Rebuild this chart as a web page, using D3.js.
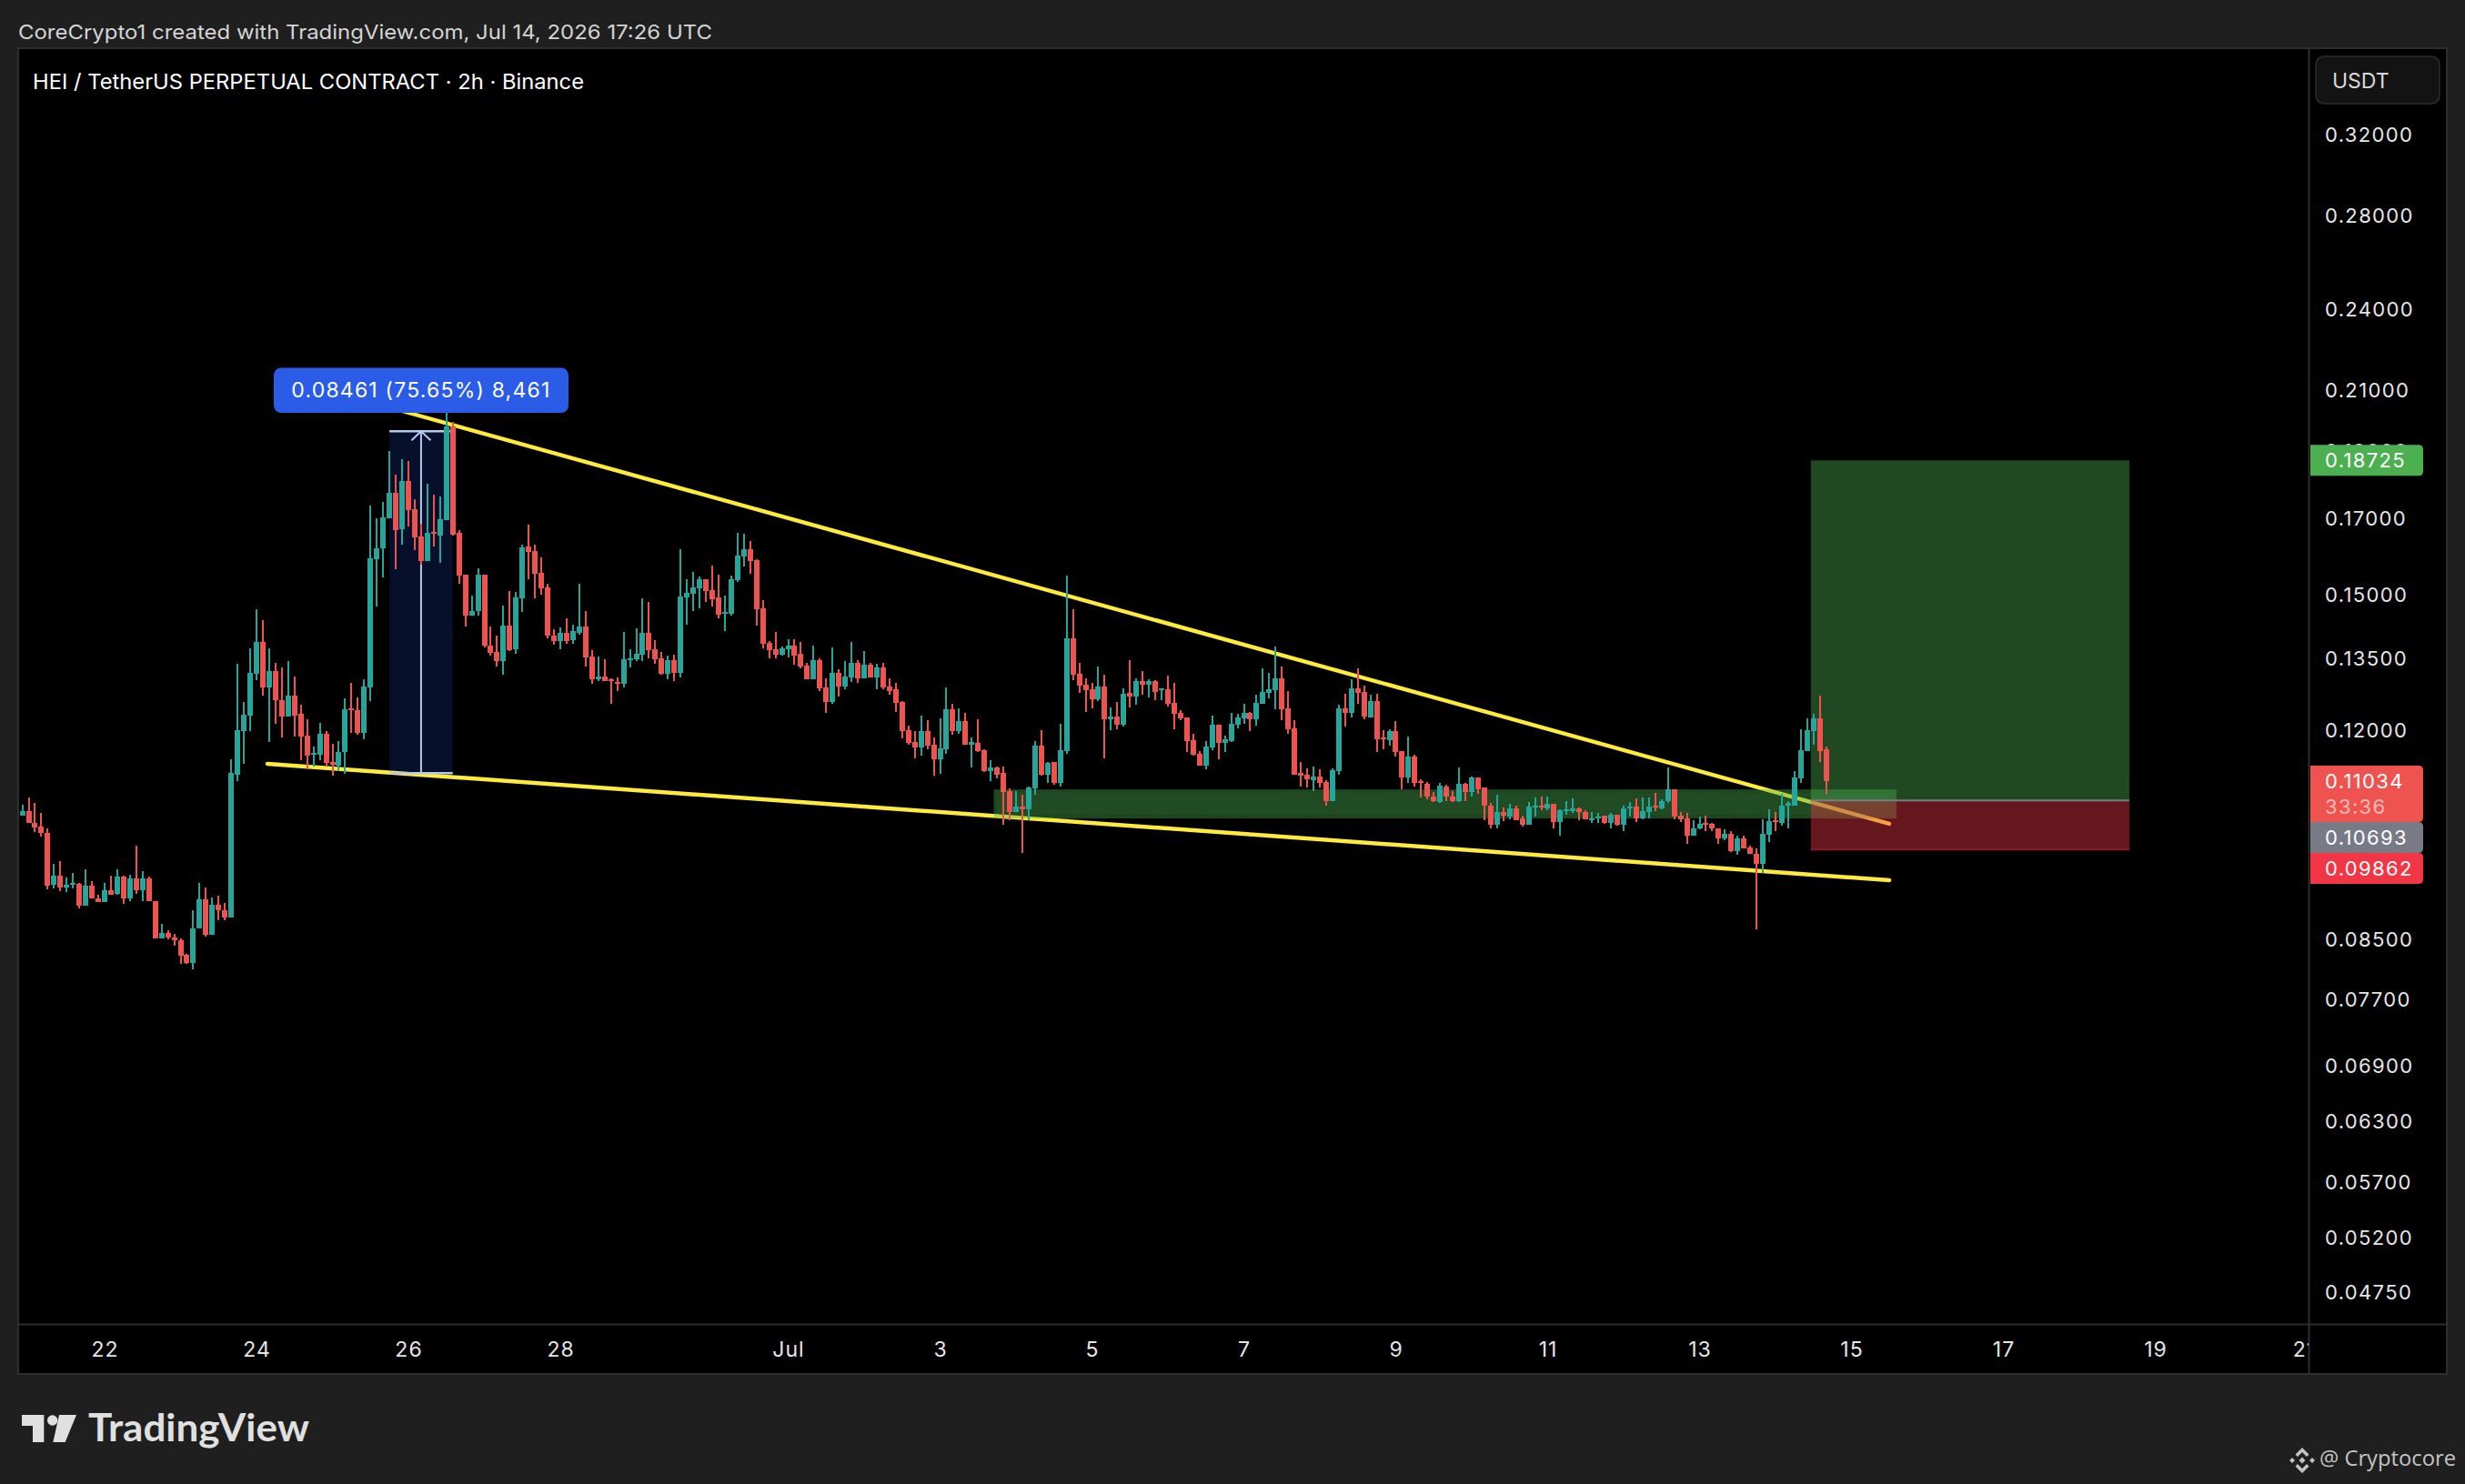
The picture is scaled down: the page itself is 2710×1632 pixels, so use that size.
<!DOCTYPE html>
<html><head><meta charset="utf-8">
<script src="https://cdnjs.cloudflare.com/ajax/libs/d3/7.8.5/d3.min.js"></script>
<style>html,body{margin:0;padding:0;background:#1f1f1f;overflow:hidden}svg{display:block}</style>
</head><body>
<script>
const startTime = Date.UTC(2026,5,20,22);
const opens = [
.1043,.1050,.1030,.1024,.1014,.0930,.0945,.0927,.0933,.0932,
.0899,.0929,.0910,.0904,.0922,.0917,.0944,.0910,.0941,.0922,
.0940,.0906,.0852,.0860,.0853,.0850,.0829,.0818,.0866,.0908,
.0857,.0901,.0893,.0882,.1115,.1198,.1230,.1317,.1388,.1289,
.1323,.1262,.1227,.1270,.1233,.1189,.1154,.1153,.1193,.1139,
.1133,.1158,.1244,.1240,.1196,.1289,.1590,.1620,.1702,.1775,
.1671,.1809,.1728,.1651,.1586,.1664,.1654,.1697,.1980,.1661,
.1551,.1450,.1460,.1551,.1381,.1365,.1346,.1426,.1371,.1491,
.1625,.1613,.1556,.1519,.1404,.1390,.1410,.1393,.1410,.1424,
.1355,.1305,.1312,.1305,.1300,.1295,.1350,.1349,.1360,.1410,
.1372,.1352,.1318,.1347,.1320,.1494,.1503,.1517,.1539,.1512,
.1494,.1454,.1454,.1538,.1598,.1618,.1589,.1468,.1386,.1372,
.1360,.1372,.1380,.1362,.1336,.1306,.1347,.1288,.1257,.1320,
.1290,.1310,.1342,.1307,.1338,.1310,.1332,.1290,.1284,.1258,
.1201,.1177,.1167,.1199,.1172,.1144,.1163,.1242,.1199,.1218,
.1173,.1175,.1161,.1122,.1129,.1119,.1086,.1049,.1058,.1054,
.1091,.1170,.1115,.1139,.1100,.1160,.1397,.1318,.1294,.1284,
.1264,.1290,.1222,.1228,.1211,.1277,.1269,.1301,.1294,.1301,
.1282,.1284,.1256,.1235,.1226,.1181,.1154,.1132,.1167,.1211,
.1175,.1179,.1211,.1224,.1235,.1222,.1254,.1277,.1283,.1308,
.1245,.1204,.1119,.1115,.1105,.1112,.1102,.1069,.1122,.1245,
.1235,.1286,.1279,.1226,.1260,.1186,.1181,.1198,.1160,.1110,
.1150,.1104,.1099,.1077,.1066,.1094,.1077,.1068,.1099,.1084,
.1110,.1092,.1061,.1027,.1049,.1041,.1055,.1038,.1027,.1058,
.1061,.1055,.1063,.1032,.1050,.1050,.1055,.1049,.1038,.1038,
.1043,.1030,.1044,.1027,.1055,.1058,.1039,.1049,.1060,.1055,
.1068,.1089,.1043,.1038,.1009,.1021,.1030,.1029,.1022,.1004,
.1012,.0984,.1004,.0990,.0980,.0963,.1011,.1035,.1030,.1061,
.1061,.1109,.1160,.1198,.1224,.1163];
const highs = [
.1062,.1075,.1065,.1047,.1022,.0963,.0968,.0942,.0949,.0934,
.0955,.0936,.0916,.0934,.0945,.0954,.0945,.0946,.0993,.0952,
.0943,.0906,.0873,.0864,.0858,.0852,.0830,.0893,.0934,.0927,
.0911,.0914,.0903,.1145,.1340,.1258,.1373,.1466,.1439,.1374,
.1342,.1331,.1346,.1311,.1252,.1222,.1168,.1216,.1198,.1174,
.1180,.1266,.1298,.1268,.1305,.1739,.1703,.1749,.1901,.1829,
.1875,.1870,.1756,.1686,.1801,.1769,.1764,.2026,.1996,.1669,
.1552,.1499,.1568,.1552,.1424,.1404,.1474,.1510,.1508,.1629,
.1684,.1629,.1597,.1527,.1417,.1423,.1444,.1429,.1527,.1460,
.1369,.1356,.1350,.1307,.1310,.1411,.1371,.1420,.1491,.1483,
.1393,.1365,.1357,.1359,.1617,.1539,.1558,.1547,.1539,.1575,
.1552,.1498,.1548,.1662,.1660,.1640,.1591,.1488,.1391,.1412,
.1378,.1394,.1395,.1388,.1342,.1380,.1352,.1307,.1375,.1328,
.1345,.1388,.1347,.1367,.1342,.1340,.1342,.1307,.1298,.1260,
.1210,.1199,.1229,.1220,.1186,.1224,.1288,.1254,.1244,.1235,
.1186,.1222,.1163,.1142,.1131,.1131,.1091,.1086,.1079,.1094,
.1179,.1201,.1139,.1139,.1213,.1548,.1465,.1342,.1307,.1298,
.1334,.1316,.1246,.1258,.1286,.1347,.1307,.1324,.1306,.1303,
.1286,.1314,.1298,.1240,.1226,.1193,.1160,.1179,.1229,.1211,
.1189,.1235,.1233,.1254,.1237,.1273,.1330,.1320,.1379,.1333,
.1281,.1221,.1139,.1127,.1131,.1125,.1105,.1127,.1252,.1275,
.1306,.1330,.1292,.1273,.1275,.1201,.1202,.1219,.1160,.1188,
.1153,.1107,.1102,.1084,.1100,.1097,.1086,.1129,.1100,.1112,
.1110,.1092,.1065,.1079,.1057,.1063,.1060,.1043,.1066,.1074,
.1076,.1076,.1063,.1054,.1069,.1073,.1057,.1052,.1049,.1047,
.1043,.1047,.1044,.1060,.1066,.1073,.1074,.1074,.1082,.1071,
.1129,.1090,.1049,.1047,.1035,.1041,.1043,.1030,.1022,.1019,
.1016,.1009,.1009,.0993,.0988,.1037,.1054,.1049,.1081,.1068,
.1122,.1202,.1224,.1233,.1271,.1168];
const lows = [
.1043,.1030,.1015,.1008,.0924,.0925,.0921,.0920,.0925,.0895,
.0899,.0910,.0904,.0904,.0916,.0915,.0902,.0906,.0917,.0906,
.0906,.0852,.0852,.0851,.0842,.0817,.0817,.0810,.0866,.0855,
.0857,.0878,.0878,.0882,.1104,.1136,.1198,.1303,.1270,.1178,
.1214,.1186,.1227,.1188,.1142,.1126,.1131,.1143,.1132,.1114,
.1123,.1118,.1196,.1191,.1183,.1260,.1471,.1545,.1702,.1564,
.1629,.1680,.1616,.1577,.1586,.1625,.1581,.1697,.1655,.1527,
.1425,.1450,.1450,.1377,.1358,.1334,.1315,.1368,.1361,.1458,
.1540,.1491,.1500,.1397,.1383,.1372,.1385,.1385,.1406,.1334,
.1296,.1301,.1301,.1253,.1281,.1289,.1331,.1345,.1346,.1352,
.1340,.1316,.1306,.1301,.1310,.1428,.1461,.1468,.1484,.1472,
.1443,.1414,.1450,.1533,.1572,.1554,.1426,.1374,.1352,.1352,
.1358,.1354,.1338,.1330,.1306,.1306,.1281,.1235,.1254,.1269,
.1284,.1300,.1298,.1307,.1310,.1284,.1284,.1273,.1237,.1184,
.1172,.1147,.1151,.1163,.1114,.1117,.1154,.1191,.1193,.1172,
.1129,.1158,.1120,.1104,.1109,.1027,.1035,.1049,.0981,.1035,
.1079,.1114,.1100,.1098,.1094,.1154,.1303,.1277,.1237,.1244,
.1260,.1146,.1201,.1202,.1208,.1246,.1252,.1273,.1267,.1262,
.1262,.1248,.1202,.1220,.1158,.1151,.1132,.1125,.1161,.1144,
.1158,.1177,.1204,.1213,.1199,.1210,.1254,.1265,.1243,.1221,
.1193,.1115,.1094,.1092,.1086,.1092,.1060,.1069,.1115,.1208,
.1226,.1254,.1222,.1226,.1158,.1163,.1170,.1150,.1090,.1100,
.1094,.1074,.1071,.1066,.1065,.1068,.1066,.1066,.1069,.1076,
.1081,.1035,.1021,.1022,.1033,.1037,.1035,.1024,.1027,.1041,
.1052,.1052,.1021,.1009,.1044,.1047,.1035,.1037,.1030,.1030,
.1029,.1022,.1026,.1016,.1041,.1032,.1037,.1038,.1050,.1054,
.1065,.1037,.1032,.0995,.1009,.1019,.1016,.1016,.0996,.1001,
.0982,.0978,.0988,.0979,.0865,.0949,.0999,.1016,.1026,.1021,
.1061,.1100,.1160,.1173,.1139,.1081];
const closes = [
.1050,.1030,.1023,.1013,.0929,.0945,.0927,.0931,.0934,.0899,
.0929,.0910,.0904,.0922,.0916,.0944,.0910,.0941,.0922,.0940,
.0906,.0852,.0860,.0853,.0849,.0828,.0818,.0866,.0908,.0857,
.0900,.0892,.0882,.1119,.1200,.1231,.1319,.1388,.1289,.1323,
.1262,.1227,.1270,.1230,.1188,.1151,.1156,.1193,.1138,.1134,
.1158,.1243,.1243,.1196,.1291,.1593,.1620,.1704,.1775,.1669,
.1809,.1725,.1649,.1586,.1661,.1661,.1699,.1980,.1658,.1549,
.1450,.1462,.1551,.1380,.1363,.1346,.1426,.1370,.1494,.1623,
.1611,.1553,.1517,.1402,.1390,.1409,.1390,.1413,.1424,.1353,
.1306,.1312,.1302,.1302,.1295,.1350,.1352,.1362,.1410,.1370,
.1350,.1317,.1347,.1320,.1496,.1505,.1519,.1540,.1510,.1490,
.1453,.1459,.1540,.1601,.1618,.1586,.1465,.1384,.1370,.1360,
.1374,.1380,.1357,.1334,.1306,.1347,.1286,.1258,.1320,.1290,
.1311,.1342,.1307,.1338,.1310,.1332,.1288,.1281,.1256,.1199,
.1175,.1167,.1199,.1170,.1144,.1165,.1242,.1199,.1218,.1173,
.1177,.1160,.1122,.1129,.1115,.1084,.1049,.1058,.1054,.1092,
.1170,.1115,.1137,.1100,.1161,.1397,.1316,.1292,.1282,.1264,
.1290,.1222,.1228,.1211,.1275,.1269,.1301,.1294,.1301,.1279,
.1286,.1254,.1233,.1224,.1179,.1153,.1132,.1168,.1211,.1175,
.1182,.1213,.1226,.1235,.1222,.1256,.1279,.1284,.1308,.1243,
.1202,.1116,.1114,.1107,.1112,.1100,.1069,.1124,.1245,.1235,
.1286,.1277,.1228,.1260,.1183,.1183,.1198,.1158,.1110,.1150,
.1100,.1100,.1076,.1068,.1095,.1076,.1068,.1099,.1084,.1110,
.1090,.1060,.1027,.1049,.1043,.1055,.1035,.1027,.1058,.1061,
.1058,.1063,.1032,.1052,.1054,.1055,.1049,.1037,.1039,.1041,
.1030,.1044,.1027,.1055,.1058,.1039,.1050,.1058,.1057,.1069,
.1089,.1041,.1037,.1009,.1022,.1029,.1027,.1022,.1004,.1012,
.0984,.1004,.0988,.0979,.0963,.1012,.1033,.1032,.1061,.1065,
.1110,.1161,.1200,.1224,.1160,.11034];

const priceTicks = [0.32,0.28,0.24,0.21,0.19,0.17,0.15,0.135,0.12,0.085,0.077,0.069,0.063,0.057,0.052,0.0475];
const dateTicks = [[5,22],[5,24],[5,26],[5,28],[6,1],[6,3],[6,5],[6,7],[6,9],[6,11],[6,13],[6,15],[6,17],[6,19],[6,21]];
const dateTickLabels = ["22","24","26","28","Jul","3","5","7","9","11","13","15","17","19","21"];

const upperTrend = [{t:"2026-06-25T17:24Z",p:.2045},{t:"2026-07-15T11:56Z",p:.1029}];
const lowerTrend = [{t:"2026-06-24T03:27Z",p:.1136},{t:"2026-07-15T11:56Z",p:.09376}];
const zoneTimes = ["2026-07-03T16:58Z","2026-07-15T14:14Z"];
const zonePrices = [.1089,.1038];
const measureTimes = ["2026-06-25T18:00Z","2026-06-26T14:00Z"];
const measurePrices = [.19645,.11184];
const measureLabel = "0.08461 (75.65%) 8,461";
const longTimes = ["2026-07-14T11:10Z","2026-07-18T15:50Z"];
const longTarget = .18725, longEntry = .10693, longStop = .09862, lastClose = .11034;

const W=2710,H=1632;
const pane={l:21,t:54,r:2538,b:1456};
const UI="Inter, 'Liberation Sans', sans-serif";
const svg=d3.select("body").append("svg").attr("width",W).attr("height",H).attr("viewBox",`0 0 ${W} ${H}`);
const x=d3.scaleUtc().domain([Date.UTC(2026,5,22),Date.UTC(2026,6,21)]).range([115,2536.5]);
const y=d3.scaleLog().domain([0.32,0.0475]).range([148.6,1422]);
const px=t=>x(new Date(t));

svg.append("rect").attr("width",W).attr("height",H).attr("fill","#1f1f1f");
svg.append("rect").attr("x",20).attr("y",53).attr("width",2670).attr("height",1458).attr("fill","#000").attr("stroke","#2e2e2e").attr("stroke-width",2);

const defs=svg.append("defs");
defs.append("clipPath").attr("id","pane").append("rect").attr("x",pane.l).attr("y",pane.t).attr("width",pane.r-pane.l).attr("height",pane.b-pane.t);
defs.append("clipPath").attr("id","timeclip").append("rect").attr("x",pane.l).attr("y",pane.b).attr("width",pane.r-pane.l).attr("height",55);
const g=svg.append("g").attr("clip-path","url(#pane)");

// measure tool
const mx0=px(measureTimes[0]),mx1=px(measureTimes[1]),my0=y(measurePrices[0]),my1=y(measurePrices[1]),mc=(mx0+mx1)/2;
g.append("rect").attr("x",mx0).attr("y",my0).attr("width",mx1-mx0).attr("height",my1-my0).attr("fill","#07102a");

// trend lines
const line=d3.line().x(d=>px(d.t)).y(d=>y(d.p));
[upperTrend,lowerTrend].forEach(d=>g.append("path").attr("d",line(d)).attr("fill","none").attr("stroke","#ffeb3b").attr("stroke-width",4.4).attr("stroke-linecap","round"));

// measure lines
const mc1="#b7c9f0";
g.append("path").attr("d",`M${mx0},${my0}H${mx1}M${mx0},${my1}H${mx1}`).attr("stroke",mc1).attr("stroke-width",2.5).attr("fill","none");
g.append("path").attr("d",`M${mc},${my1}V${my0}`).attr("stroke",mc1).attr("stroke-width",2).attr("fill","none");
g.append("path").attr("d",`M${mc-10.5},${my0+10}L${mc},${my0}L${mc+10.5},${my0+10}`).attr("stroke",mc1).attr("stroke-width",2).attr("fill","none");

// zone: a soft fill with a slightly darker 4px rim
const zx0=px(zoneTimes[0]),zx1=px(zoneTimes[1]),zy0=y(zonePrices[0]),zy1=y(zonePrices[1]);
g.append("rect").attr("x",zx0).attr("y",zy0).attr("width",zx1-zx0).attr("height",zy1-zy0).attr("fill","#4caf50").attr("fill-opacity",.40);
g.append("rect").attr("x",zx0+4).attr("y",zy0+4).attr("width",zx1-zx0-8).attr("height",zy1-zy0-8).attr("fill","#4caf50").attr("fill-opacity",.06);

// long position
const lx0=px(longTimes[0]),lx1=px(longTimes[1]);
g.append("rect").attr("x",lx0).attr("y",y(longTarget)).attr("width",lx1-lx0).attr("height",y(longEntry)-y(longTarget)).attr("fill","#4caf50").attr("fill-opacity",.42);
g.append("rect").attr("x",lx0).attr("y",y(longEntry)).attr("width",lx1-lx0).attr("height",y(longStop)-y(longEntry)).attr("fill","#f23645").attr("fill-opacity",.42);
g.append("path").attr("d",`M${lx0},${y(longEntry)}H${lx1}`).attr("stroke","#787b86").attr("stroke-width",2);
g.append("path").attr("d",`M${lx0},${y(longStop)}H${lx1}`).attr("stroke","#8a1e28").attr("stroke-width",2);

// candles
const candles=opens.map((o,i)=>({t:d3.utcHour.offset(new Date(startTime),i*2),o,h:highs[i],l:lows[i],c:closes[i]}));
const colorOf=d=>d.c>=d.o?"#26a69a":"#ef5350";
const cg=g.append("g").attr("shape-rendering","crispEdges");
cg.selectAll("rect.w").data(candles).join("rect").attr("class","w")
 .attr("x",d=>Math.round(x(d.t))-1).attr("width",2).attr("y",d=>y(d.h)).attr("height",d=>y(d.l)-y(d.h)).attr("fill",colorOf);
cg.selectAll("rect.b").data(candles).join("rect").attr("class","b")
 .attr("x",d=>Math.round(x(d.t))-3).attr("width",6)
 .attr("y",d=>y(Math.max(d.o,d.c))).attr("height",d=>Math.max(2,y(Math.min(d.o,d.c))-y(Math.max(d.o,d.c)))).attr("fill",colorOf);

// measure label
svg.append("rect").attr("x",301).attr("y",404.5).attr("width",324).attr("height",49.5).attr("rx",8).attr("fill","#2a5ce8");
svg.append("text").attr("x",mc).attr("y",437).attr("text-anchor","middle").attr("fill","#fff").attr("font-family",UI).attr("font-size",23).attr("letter-spacing",1.2).text(measureLabel);

// axes separators
svg.append("path").attr("d",`M${pane.r+0.5},53V1511M20,${pane.b+0.5}H2690`).attr("stroke","#2e2e2e").attr("stroke-width",2);

// time axis
const timeAxis=d3.axisBottom(x).tickValues(dateTicks.map(d=>new Date(Date.UTC(2026,d[0],d[1])))).tickFormat((d,i)=>dateTickLabels[i]).tickSize(0).tickPadding(0);
const ta=svg.append("g").attr("clip-path","url(#timeclip)").append("g").attr("transform",`translate(0,1478)`).call(timeAxis);
ta.select(".domain").remove();
ta.selectAll("text").attr("fill","#e6e6e6").attr("font-family",UI).attr("font-size",23).attr("letter-spacing",1).attr("dy","0.6em");
ta.selectAll(".tick:last-of-type text").attr("dx",-3.5);

// price axis
const priceAxis=d3.axisRight(y).tickValues(priceTicks).tickFormat(d3.format(".5f")).tickSize(0).tickPadding(0);
const pa=svg.append("g").attr("transform","translate(2556,-1)").call(priceAxis);
pa.select(".domain").remove();
pa.selectAll("text").attr("fill","#e6e6e6").attr("font-family",UI).attr("font-size",22).attr("letter-spacing",1.35).attr("dy","0.36em");

// price labels
function tag(yTop,h,fill,lines){
  const bx=2540,bw=124,r=5;
  svg.append("path").attr("d",`M${bx},${yTop}H${bx+bw-r}Q${bx+bw},${yTop} ${bx+bw},${yTop+r}V${yTop+h-r}Q${bx+bw},${yTop+h} ${bx+bw-r},${yTop+h}H${bx}Z`).attr("fill",fill);
  lines.forEach(l=>svg.append("text").attr("x",2556).attr("y",l.y).attr("fill",l.c||"#fff").attr("font-family",UI).attr("font-size",22).attr("letter-spacing",1.35).text(l.s));
}
const fmt=d3.format(".5f");
tag(y(longTarget)-17,34,"#4caf50",[{y:y(longTarget)+8,s:fmt(longTarget)}]);
tag(842,62,"#ef5350",[{y:867,s:fmt(lastClose)},{y:895,s:"33:36",c:"rgba(255,255,255,.6)"}]);
tag(904,34,"#787b86",[{y:929,s:fmt(longEntry)}]);
tag(938,34,"#f23645",[{y:963,s:fmt(longStop)}]);

// USDT button
svg.append("rect").attr("x",2546).attr("y",62).attr("width",136).attr("height",52).attr("rx",9).attr("fill","#131313").attr("stroke","#2e2e2e").attr("stroke-width",1.5);
svg.append("text").attr("x",2564).attr("y",97).attr("fill","#d8d8d8").attr("font-family",UI).attr("font-size",23).text("USDT");

// titles
svg.append("text").attr("x",20).attr("y",43).attr("fill","#d4d4d4").attr("font-family",UI).attr("font-size",22).attr("textLength",763).attr("lengthAdjust","spacingAndGlyphs").text("CoreCrypto1 created with TradingView.com, Jul 14, 2026 17:26 UTC");
svg.append("text").attr("x",36).attr("y",98).attr("fill","#fff").attr("font-family",UI).attr("font-size",23).attr("textLength",606).attr("lengthAdjust","spacingAndGlyphs").text("HEI / TetherUS PERPETUAL CONTRACT · 2h · Binance");

// TradingView logo
const logo=svg.append("g").attr("transform","translate(0,1440) scale(.3333)").attr("fill","#e0e0e0");
logo.append("path").attr("d","M72,348H145V438H108V384H72Z");
logo.append("circle").attr("cx",173).attr("cy",366).attr("r",17);
logo.append("path").attr("d","M195,348H252L215,438H175Z");
svg.append("text").attr("x",97).attr("y",1585).attr("fill","#e0e0e0").attr("font-family","Lato, Inter, sans-serif").attr("font-weight",700).attr("font-size",42).attr("textLength",243).attr("lengthAdjust","spacingAndGlyphs").text("TradingView");

// watermark
const wm=svg.append("g").attr("transform","translate(2531,1606)").attr("fill","#c4c4c4");
wm.append("path").attr("d","M-3.5,0L0,-3.5L3.5,0L0,3.5Z");
wm.append("path").attr("d","M-14,0L-11,-3L-8,0L-11,3ZM14,0L11,-3L8,0L11,3Z");
wm.append("path").attr("d","M0,-14L7.5,-6.5L5,-4L0,-9L-5,-4L-7.5,-6.5ZM0,14L7.5,6.5L5,4L0,9L-5,4L-7.5,6.5Z");
svg.append("text").attr("x",2550).attr("y",1612).attr("fill","#c4c4c4").attr("font-family","'Open Sans', sans-serif").attr("font-size",24).attr("textLength",150).attr("lengthAdjust","spacingAndGlyphs").text("@ Cryptocore");
</script>
</body></html>
